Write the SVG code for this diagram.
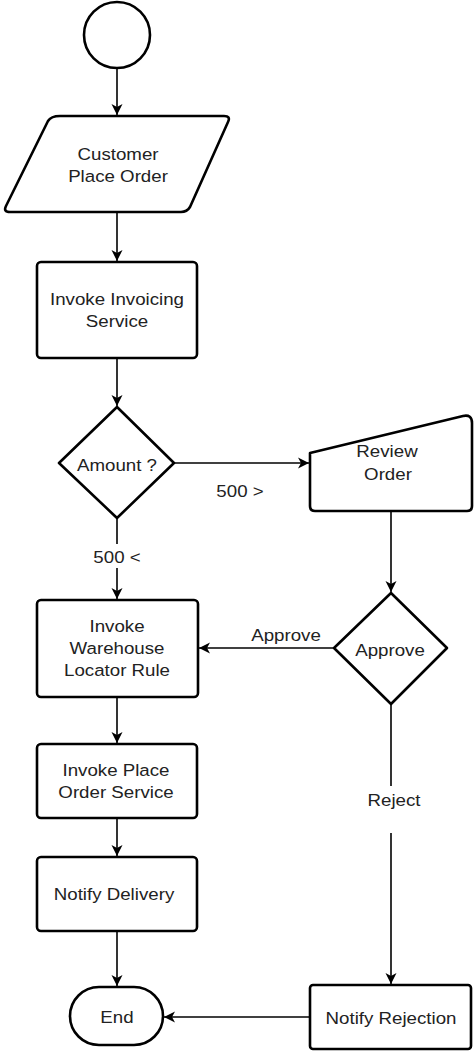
<svg xmlns="http://www.w3.org/2000/svg" width="474" height="1052" viewBox="0 0 474 1052">
<style>
.shape{fill:#fff;stroke:#000;stroke-width:2.6;stroke-linejoin:round}
.conn{fill:none;stroke:#000;stroke-width:1.6}
.t{font-family:"Liberation Sans",Arial,sans-serif;font-size:17px;fill:#222;text-anchor:middle}
</style>
<defs>
<marker id="arr" markerUnits="userSpaceOnUse" markerWidth="12" markerHeight="12" viewBox="0 0 12 12" refX="11" refY="6" orient="auto">
<path d="M0,0.5 L11,6 L0,11.5 L3,6 z" fill="#000"/>
</marker>
</defs>
<rect width="474" height="1052" fill="#fff"/>
<g id="connectors">
<line class="conn" x1="117" y1="68" x2="117" y2="115" marker-end="url(#arr)"/>
<line class="conn" x1="117" y1="213" x2="117" y2="261" marker-end="url(#arr)"/>
<line class="conn" x1="117" y1="358" x2="117" y2="406" marker-end="url(#arr)"/>
<line class="conn" x1="174" y1="463" x2="309" y2="463" marker-end="url(#arr)"/>
<line class="conn" x1="117" y1="518" x2="117" y2="544"/>
<line class="conn" x1="117" y1="568" x2="117" y2="599" marker-end="url(#arr)"/>
<line class="conn" x1="391" y1="511" x2="391" y2="592" marker-end="url(#arr)"/>
<line class="conn" x1="334" y1="648" x2="199" y2="648" marker-end="url(#arr)"/>
<line class="conn" x1="117" y1="697" x2="117" y2="743" marker-end="url(#arr)"/>
<line class="conn" x1="117" y1="818" x2="117" y2="856" marker-end="url(#arr)"/>
<line class="conn" x1="117" y1="931" x2="117" y2="986" marker-end="url(#arr)"/>
<line class="conn" x1="391" y1="704" x2="391" y2="786"/>
<line class="conn" x1="391" y1="833" x2="391" y2="984" marker-end="url(#arr)"/>
<line class="conn" x1="309" y1="1017" x2="164" y2="1017" marker-end="url(#arr)"/>
<text class="t" transform="translate(240,497) scale(1.1,1)">500 &gt;</text>
<text class="t" transform="translate(117,563) scale(1.1,1)">500 &lt;</text>
<text class="t" transform="translate(286,641) scale(1.1,1)">Approve</text>
<text class="t" transform="translate(394,806) scale(1.1,1)">Reject</text>
</g>
<g id="start">
<circle class="shape" cx="117" cy="35" r="33"/>
</g>
<g id="customer-place-order">
<path class="shape" d="M60,116 L224,116 Q231,116 228,122 L190,207 Q187,212 181,212 L10,212 Q3,212 6,206 L48,121 Q51,116 60,116 Z"/>
<text class="t" transform="translate(118,160) scale(1.1,1)">Customer</text>
<text class="t" transform="translate(118,182) scale(1.1,1)">Place Order</text>
</g>
<g id="invoke-invoicing">
<rect class="shape" x="37" y="262" width="160" height="96" rx="4"/>
<text class="t" transform="translate(117,305) scale(1.1,1)">Invoke Invoicing</text>
<text class="t" transform="translate(117,327) scale(1.1,1)">Service</text>
</g>
<g id="amount">
<path class="shape" d="M117,407 L174,463 L117,518 L59,463 Z"/>
<text class="t" transform="translate(117,471) scale(1.1,1)">Amount ?</text>
</g>
<g id="review-order">
<path class="shape" d="M310,453 L463,416 Q472,414 472,423 L472,506 Q472,511 467,511 L315,511 Q310,511 310,506 Z"/>
<text class="t" transform="translate(387,457) scale(1.1,1)">Review</text>
<text class="t" transform="translate(388,480) scale(1.1,1)">Order</text>
</g>
<g id="approve">
<path class="shape" d="M391,593 L447,648 L391,704 L334,648 Z"/>
<text class="t" transform="translate(390,656) scale(1.1,1)">Approve</text>
</g>
<g id="warehouse">
<rect class="shape" x="37" y="600" width="161" height="97" rx="4"/>
<text class="t" transform="translate(117,632) scale(1.1,1)">Invoke</text>
<text class="t" transform="translate(117,654) scale(1.1,1)">Warehouse</text>
<text class="t" transform="translate(117,676) scale(1.1,1)">Locator Rule</text>
</g>
<g id="place-order-service">
<rect class="shape" x="37" y="744" width="160" height="74" rx="4"/>
<text class="t" transform="translate(116,776) scale(1.1,1)">Invoke Place</text>
<text class="t" transform="translate(116,798) scale(1.1,1)">Order Service</text>
</g>
<g id="notify-delivery">
<rect class="shape" x="37" y="857" width="160" height="74" rx="4"/>
<text class="t" transform="translate(114,900) scale(1.1,1)">Notify Delivery</text>
</g>
<g id="end">
<rect class="shape" x="70" y="987" width="93" height="58" rx="29"/>
<text class="t" transform="translate(117,1023) scale(1.1,1)">End</text>
</g>
<g id="notify-rejection">
<rect class="shape" x="310" y="985" width="161" height="64" rx="3"/>
<text class="t" transform="translate(391,1024) scale(1.1,1)">Notify Rejection</text>
</g>
</svg>
